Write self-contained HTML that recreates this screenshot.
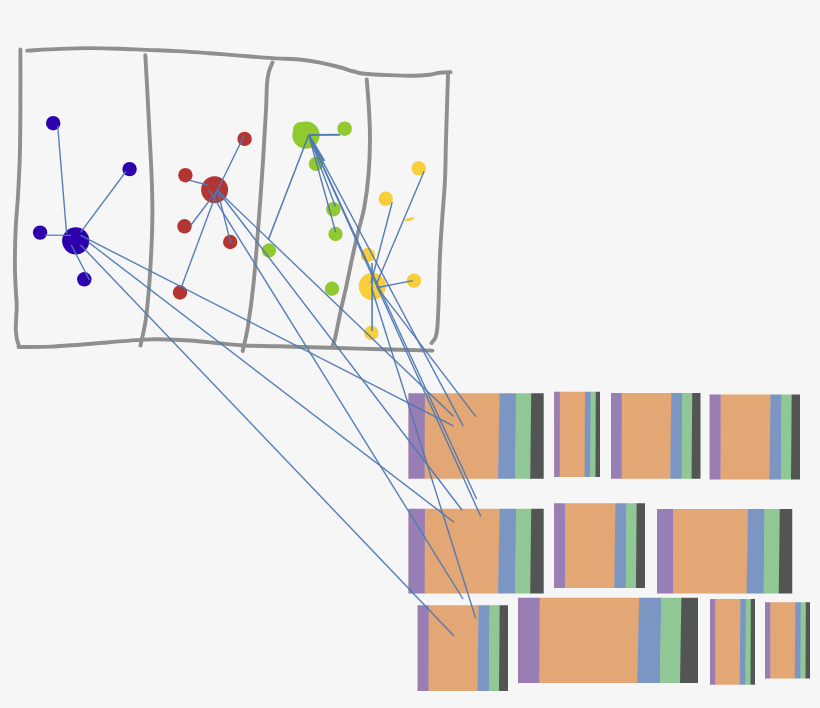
<!DOCTYPE html>
<html><head><meta charset="utf-8"><title>diagram</title>
<style>html,body{margin:0;padding:0;background:#f6f6f6;}svg{display:block;}</style></head>
<body>
<svg width="820" height="708" viewBox="0 0 820 708">
<rect width="820" height="708" fill="#f6f6f6"/>
<defs><filter id="soft" x="-5%" y="-5%" width="110%" height="110%" filterUnits="objectBoundingBox"><feGaussianBlur stdDeviation="0.45"/></filter></defs>
<g filter="url(#soft)">
<g fill="none" stroke="#8f8f8f" stroke-width="3.9" stroke-linecap="round" stroke-linejoin="round">
<path d="M20.40,49.40 C20.40,59.17 20.48,90.73 20.40,108.00 C20.32,125.27 20.28,138.67 19.90,153.00 C19.52,167.33 18.82,181.17 18.10,194.00 C17.38,206.83 16.13,218.00 15.60,230.00 C15.07,242.00 14.87,256.00 14.90,266.00 C14.93,276.00 15.50,283.50 15.80,290.00 C16.10,296.50 16.65,300.00 16.70,305.00 C16.75,310.00 16.25,315.83 16.10,320.00 C15.95,324.17 15.65,326.75 15.80,330.00 C15.95,333.25 16.50,336.92 17.00,339.50 C17.50,342.08 18.50,344.50 18.80,345.50"/>
<path d="M27.20,50.60 C32.67,50.32 49.70,49.31 60.00,48.90 C70.30,48.49 79.25,48.18 89.00,48.15 C98.75,48.12 109.00,48.41 118.50,48.70 C128.00,48.99 136.25,49.50 146.00,49.90 C155.75,50.30 166.33,50.53 177.00,51.10 C187.67,51.67 199.62,52.55 210.00,53.30 C220.38,54.05 228.90,54.80 239.30,55.60 C249.70,56.40 262.00,57.42 272.40,58.10 C282.80,58.78 293.77,58.95 301.70,59.70 C309.63,60.45 314.12,61.47 320.00,62.60 C325.88,63.73 331.33,65.02 337.00,66.50 C342.67,67.98 349.43,70.30 354.00,71.50 C358.57,72.70 358.68,73.10 364.40,73.70 C370.12,74.30 380.03,74.75 388.30,75.10 C396.57,75.45 407.17,75.87 414.00,75.80 C420.83,75.73 424.97,75.22 429.30,74.70 C433.63,74.18 436.45,73.13 440.00,72.70 C443.55,72.27 448.83,72.20 450.60,72.10"/>
<path d="M145.30,55.30 C145.58,60.25 146.33,72.55 147.00,85.00 C147.67,97.45 148.53,114.83 149.30,130.00 C150.07,145.17 151.08,162.33 151.60,176.00 C152.12,189.67 152.40,200.67 152.40,212.00 C152.40,223.33 152.12,232.00 151.60,244.00 C151.08,256.00 150.28,271.33 149.30,284.00 C148.32,296.67 147.17,309.75 145.70,320.00 C144.23,330.25 141.37,341.25 140.50,345.50"/>
<path d="M272.50,62.50 C271.88,64.08 269.72,68.42 268.80,72.00 C267.88,75.58 267.47,77.67 267.00,84.00 C266.53,90.33 266.67,97.17 266.00,110.00 C265.33,122.83 264.25,142.00 263.00,161.00 C261.75,180.00 260.08,203.50 258.50,224.00 C256.92,244.50 255.25,267.00 253.50,284.00 C251.75,301.00 249.80,314.83 248.00,326.00 C246.20,337.17 243.58,346.83 242.70,351.00"/>
<path d="M366.75,79.50 C367.12,84.58 368.46,99.92 369.00,110.00 C369.54,120.08 370.08,129.17 370.00,140.00 C369.92,150.83 369.43,163.90 368.50,175.00 C367.57,186.10 366.25,196.60 364.40,206.60 C362.55,216.60 359.43,226.43 357.40,235.00 C355.37,243.57 354.03,249.53 352.20,258.00 C350.37,266.47 348.33,276.92 346.40,285.80 C344.47,294.68 342.43,302.82 340.60,311.30 C338.77,319.78 336.70,331.05 335.40,336.70 C334.10,342.35 333.23,343.78 332.80,345.20"/>
<path d="M448.00,74.50 C447.67,85.42 446.50,122.42 446.00,140.00 C445.50,157.58 445.58,167.50 445.00,180.00 C444.42,192.50 443.33,202.50 442.50,215.00 C441.67,227.50 440.67,240.00 440.00,255.00 C439.33,270.00 438.95,292.83 438.50,305.00 C438.05,317.17 437.80,322.58 437.30,328.00 C436.80,333.42 436.47,335.00 435.50,337.50 C434.53,340.00 432.17,342.08 431.50,343.00"/>
<path d="M18.50,347.00 C23.67,346.93 39.25,346.98 49.50,346.60 C59.75,346.22 71.18,345.33 80.00,344.70 C88.82,344.07 92.32,343.60 102.40,342.80 C112.48,342.00 131.23,340.48 140.50,339.90 C149.77,339.32 149.72,339.20 158.00,339.30 C166.28,339.40 179.87,339.82 190.20,340.50 C200.53,341.18 211.13,342.57 220.00,343.40 C228.87,344.23 233.65,345.02 243.40,345.50 C253.15,345.98 263.87,345.92 278.50,346.30 C293.13,346.68 314.12,347.30 331.20,347.80 C348.28,348.30 364.13,348.83 381.00,349.30 C397.87,349.77 423.83,350.38 432.40,350.60"/>
</g>
<g shape-rendering="geometricPrecision">
<polygon points="408.60,393.3 425.28,393.3 425.08,478.7 408.60,478.7" fill="#977fb6"/>
<polygon points="424.88,393.3 499.92,393.3 498.44,478.7 424.68,478.7" fill="#e3a675"/>
<polygon points="499.52,393.3 516.40,393.3 515.46,478.7 498.04,478.7" fill="#7b96c3"/>
<polygon points="516.00,393.3 531.60,393.3 530.59,478.7 515.06,478.7" fill="#8fc894"/>
<polygon points="531.20,393.3 543.70,393.3 543.70,478.7 530.19,478.7" fill="#535554"/>
<rect x="408.6" y="393.3" width="0.7" height="85.40" fill="#a37a98"/>
<polygon points="554.30,391.7 560.21,391.7 560.14,477.1 554.30,477.1" fill="#977fb6"/>
<polygon points="559.81,391.7 585.46,391.7 584.95,477.1 559.74,477.1" fill="#e3a675"/>
<polygon points="585.06,391.7 591.03,391.7 590.71,477.1 584.55,477.1" fill="#7b96c3"/>
<polygon points="590.63,391.7 596.17,391.7 595.83,477.1 590.31,477.1" fill="#8fc894"/>
<polygon points="595.77,391.7 600.00,391.7 600.00,477.1 595.43,477.1" fill="#535554"/>
<rect x="554.3" y="391.7" width="0.7" height="85.40" fill="#a37a98"/>
<polygon points="611.00,393 622.18,393 622.05,478.75 611.00,478.75" fill="#977fb6"/>
<polygon points="621.78,393 671.63,393 670.65,478.75 621.65,478.75" fill="#e3a675"/>
<polygon points="671.23,393 682.55,393 681.93,478.75 670.25,478.75" fill="#7b96c3"/>
<polygon points="682.15,393 692.62,393 691.95,478.75 681.53,478.75" fill="#8fc894"/>
<polygon points="692.22,393 700.50,393 700.50,478.75 691.55,478.75" fill="#535554"/>
<rect x="611" y="393" width="0.7" height="85.75" fill="#a37a98"/>
<polygon points="709.75,394.5 721.03,394.5 720.89,479.5 709.75,479.5" fill="#977fb6"/>
<polygon points="720.63,394.5 770.89,394.5 769.90,479.5 720.49,479.5" fill="#e3a675"/>
<polygon points="770.49,394.5 781.90,394.5 781.27,479.5 769.50,479.5" fill="#7b96c3"/>
<polygon points="781.50,394.5 792.05,394.5 791.38,479.5 780.87,479.5" fill="#8fc894"/>
<polygon points="791.65,394.5 800.00,394.5 800.00,479.5 790.98,479.5" fill="#535554"/>
<rect x="709.75" y="394.5" width="0.7" height="85.00" fill="#a37a98"/>
<polygon points="408.60,508.75 425.28,508.75 425.08,593.5 408.60,593.5" fill="#977fb6"/>
<polygon points="424.88,508.75 499.92,508.75 498.44,593.5 424.68,593.5" fill="#e3a675"/>
<polygon points="499.52,508.75 516.40,508.75 515.46,593.5 498.04,593.5" fill="#7b96c3"/>
<polygon points="516.00,508.75 531.60,508.75 530.59,593.5 515.06,593.5" fill="#8fc894"/>
<polygon points="531.20,508.75 543.70,508.75 543.70,593.5 530.19,593.5" fill="#535554"/>
<rect x="408.6" y="508.75" width="0.7" height="84.75" fill="#a37a98"/>
<polygon points="554.25,503.25 565.59,503.25 565.45,588 554.25,588" fill="#977fb6"/>
<polygon points="565.19,503.25 615.72,503.25 614.73,588 565.05,588" fill="#e3a675"/>
<polygon points="615.32,503.25 626.80,503.25 626.16,588 614.33,588" fill="#7b96c3"/>
<polygon points="626.40,503.25 637.01,503.25 636.32,588 625.76,588" fill="#8fc894"/>
<polygon points="636.61,503.25 645.00,503.25 645.00,588 635.92,588" fill="#535554"/>
<rect x="554.25" y="503.25" width="0.7" height="84.75" fill="#a37a98"/>
<polygon points="657.00,509 673.70,509 673.49,593.5 657.00,593.5" fill="#977fb6"/>
<polygon points="673.30,509 748.42,509 746.94,593.5 673.09,593.5" fill="#e3a675"/>
<polygon points="748.02,509 764.92,509 763.98,593.5 746.54,593.5" fill="#7b96c3"/>
<polygon points="764.52,509 780.14,509 779.12,593.5 763.58,593.5" fill="#8fc894"/>
<polygon points="779.74,509 792.25,509 792.25,593.5 778.73,593.5" fill="#535554"/>
<rect x="657" y="509" width="0.7" height="84.50" fill="#a37a98"/>
<polygon points="417.75,605.25 429.03,605.25 428.89,691 417.75,691" fill="#977fb6"/>
<polygon points="428.63,605.25 478.89,605.25 477.90,691 428.49,691" fill="#e3a675"/>
<polygon points="478.49,605.25 489.90,605.25 489.27,691 477.50,691" fill="#7b96c3"/>
<polygon points="489.50,605.25 500.05,605.25 499.38,691 488.87,691" fill="#8fc894"/>
<polygon points="499.65,605.25 508.00,605.25 508.00,691 498.98,691" fill="#535554"/>
<rect x="417.75" y="605.25" width="0.7" height="85.75" fill="#a37a98"/>
<polygon points="518.00,597.75 540.09,597.75 539.82,683 518.00,683" fill="#977fb6"/>
<polygon points="539.69,597.75 639.54,597.75 637.56,683 539.42,683" fill="#e3a675"/>
<polygon points="639.14,597.75 661.50,597.75 660.24,683 637.16,683" fill="#7b96c3"/>
<polygon points="661.10,597.75 681.75,597.75 680.40,683 659.84,683" fill="#8fc894"/>
<polygon points="681.35,597.75 698.00,597.75 698.00,683 680.00,683" fill="#535554"/>
<rect x="518" y="597.75" width="0.7" height="85.25" fill="#a37a98"/>
<polygon points="710.00,599 715.82,599 715.75,684.75 710.00,684.75" fill="#977fb6"/>
<polygon points="715.42,599 740.68,599 740.19,684.75 715.36,684.75" fill="#e3a675"/>
<polygon points="740.28,599 746.17,599 745.86,684.75 739.79,684.75" fill="#7b96c3"/>
<polygon points="745.77,599 751.24,599 750.90,684.75 745.46,684.75" fill="#8fc894"/>
<polygon points="750.84,599 755.00,599 755.00,684.75 750.50,684.75" fill="#535554"/>
<rect x="710" y="599" width="0.7" height="85.75" fill="#a37a98"/>
<polygon points="765.00,602.25 770.82,602.25 770.75,678.5 765.00,678.5" fill="#977fb6"/>
<polygon points="770.42,602.25 795.68,602.25 795.19,678.5 770.36,678.5" fill="#e3a675"/>
<polygon points="795.28,602.25 801.17,602.25 800.86,678.5 794.79,678.5" fill="#7b96c3"/>
<polygon points="800.77,602.25 806.24,602.25 805.90,678.5 800.46,678.5" fill="#8fc894"/>
<polygon points="805.84,602.25 810.00,602.25 810.00,678.5 805.50,678.5" fill="#535554"/>
<rect x="765" y="602.25" width="0.7" height="76.25" fill="#a37a98"/>
</g>
<g>
<circle cx="75.7" cy="240.8" r="13.6" fill="#2f06ad"/>
<circle cx="53.2" cy="123.2" r="7.2" fill="#2f06ad"/>
<circle cx="129.6" cy="169.1" r="7.2" fill="#2f06ad"/>
<circle cx="40.1" cy="232.6" r="7.2" fill="#2f06ad"/>
<circle cx="84.3" cy="279.3" r="7.2" fill="#2f06ad"/>
<circle cx="214.6" cy="189.8" r="13.5" fill="#b33630"/>
<circle cx="244.6" cy="138.9" r="7.2" fill="#b33630"/>
<circle cx="185.4" cy="175.2" r="7.2" fill="#b33630"/>
<circle cx="184.5" cy="226.3" r="7.2" fill="#b33630"/>
<circle cx="230.2" cy="242" r="7.2" fill="#b33630"/>
<circle cx="180" cy="292.5" r="7.2" fill="#b33630"/>
<circle cx="306" cy="135.1" r="13.7" fill="#91c92d"/>
<circle cx="301" cy="130" r="8" fill="#91c92d"/>
<circle cx="344.6" cy="128.7" r="7.3" fill="#91c92d"/>
<circle cx="316" cy="163.9" r="7.2" fill="#91c92d"/>
<circle cx="333.3" cy="209.3" r="7.2" fill="#91c92d"/>
<circle cx="335.5" cy="234" r="7.2" fill="#91c92d"/>
<circle cx="268.9" cy="250.5" r="7.2" fill="#91c92d"/>
<circle cx="332" cy="288.75" r="7.2" fill="#91c92d"/>
<circle cx="372.3" cy="286.3" r="13.6" fill="#f9ce3b"/>
<circle cx="418.7" cy="168.3" r="7.2" fill="#f9ce3b"/>
<circle cx="385.7" cy="198.8" r="7.2" fill="#f9ce3b"/>
<circle cx="368" cy="255" r="7.2" fill="#f9ce3b"/>
<circle cx="414" cy="280.6" r="7.2" fill="#f9ce3b"/>
<circle cx="371.4" cy="333" r="7.2" fill="#f9ce3b"/>
<ellipse cx="409.5" cy="219.3" rx="5" ry="1.4" fill="#f9ce3b" transform="rotate(-14 409.5 219.3)"/>
</g>
<g stroke="#4d78b3" stroke-width="1.4" stroke-opacity="0.95" stroke-linecap="butt" fill="none">
<line x1="44.6" y1="235.1" x2="70.9" y2="235.4"/>
<line x1="66.6" y1="233.5" x2="57.7" y2="125.8"/>
<line x1="80.6" y1="232.3" x2="126" y2="171.5"/>
<line x1="71.25" y1="245" x2="89.5" y2="280"/>
<line x1="80.6" y1="235.4" x2="453.7" y2="426.1"/>
<line x1="88.5" y1="242.3" x2="454" y2="522.2"/>
<line x1="80.6" y1="244.9" x2="454" y2="636"/>
<line x1="217.4" y1="190.2" x2="244.3" y2="135.2"/>
<line x1="190" y1="180.4" x2="208.3" y2="185.2"/>
<line x1="217.4" y1="190.2" x2="190.6" y2="225.5"/>
<line x1="217.4" y1="190.2" x2="181.25" y2="287.5"/>
<line x1="218.3" y1="193.4" x2="230.9" y2="243.8"/>
<line x1="217.4" y1="190.2" x2="453.7" y2="416.6"/>
<line x1="217.4" y1="190.2" x2="462.2" y2="510.2"/>
<line x1="208.5" y1="189.1" x2="463" y2="599"/>
<line x1="308.7" y1="135.05" x2="340.1" y2="134.8" stroke-width="2.1"/>
<line x1="308.7" y1="135.05" x2="268.3" y2="239.8" stroke-width="1.6"/>
<line x1="308.7" y1="135.05" x2="335.4" y2="206.6"/>
<line x1="308.7" y1="135.05" x2="335.7" y2="232.2"/>
<line x1="308.7" y1="135.05" x2="324.3" y2="161" stroke-width="2.2"/>
<line x1="308.7" y1="135.05" x2="463.2" y2="426.1"/>
<line x1="308.7" y1="135.05" x2="476.6" y2="499"/>
<line x1="308.7" y1="135.05" x2="480.8" y2="516.5"/>
<line x1="372.1" y1="263.1" x2="372.1" y2="331" stroke-width="1.6"/>
<line x1="392.2" y1="202.2" x2="371" y2="283"/>
<line x1="424.1" y1="171.3" x2="376.6" y2="283.7"/>
<line x1="376.6" y1="287.8" x2="412.8" y2="280.6"/>
<line x1="377.2" y1="287.3" x2="475.9" y2="416.6"/>
<line x1="371.5" y1="287.5" x2="475.75" y2="618.5"/>
</g>
</g>
</svg></body></html>
